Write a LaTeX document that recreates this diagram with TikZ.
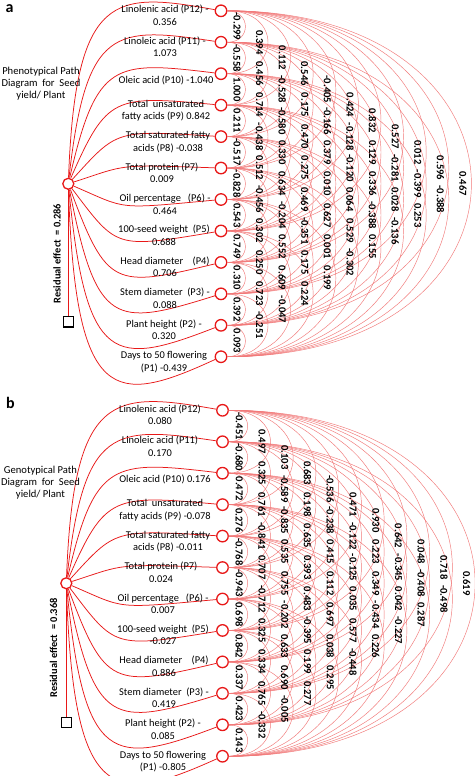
\documentclass[tikz,border=0pt]{standalone}
\usepackage{fontspec}
\setmainfont{Carlito}
\usetikzlibrary{calc}
\definecolor{pred}{RGB}{232,24,24}
\definecolor{parc}{RGB}{242,120,120}
\tikzset{
  var/.style={circle, draw=pred, line width=1.3pt, minimum size=11.5pt, inner sep=0pt},
  hubnode/.style={circle, draw=pred, line width=1.3pt, minimum size=11pt, inner sep=0pt},
  resbox/.style={rectangle, draw=black, line width=1.1pt, minimum size=10.5pt, inner sep=0pt},
  conn/.style={draw=pred, line width=0.75pt},
  corr/.style={draw=parc, line width=0.45pt},
  lab/.style={font=\fontsize{10.4}{12}\selectfont, inner sep=0pt, anchor=base},
  val/.style={font=\bfseries\fontsize{10.6}{12}\selectfont, inner sep=0pt, rotate=-90},
  ttl/.style={font=\fontsize{10.6}{12.2}\selectfont, inner sep=0pt, align=center, anchor=north},
  resid/.style={font=\bfseries\fontsize{10.4}{12}\selectfont, inner sep=0pt, rotate=90},
  panlab/.style={font=\bfseries\fontsize{16}{16}\selectfont, inner sep=0pt, anchor=base west},
}
% #1 prefix, #2 y12, #3 hubx, #4 cx, #5 col1x, #6 colstep, #7 boxy
\newcommand\DrawPanel[7]{%
  \foreach \m in {1,...,12}{
    \pgfmathsetmacro\ty{#2+(12-\m)*31.45}
    \node[var] (#1\m) at (#4,\ty) {};
  }
  \pgfmathsetmacro\hy{#2+5.5*31.45}
  \node[hubnode] (#1hub) at (#3,\hy) {};
  \node[resbox] (#1box) at (#3,#7) {};
  \draw[conn] (#1hub) -- (#1box);
  \foreach \m in {1,...,12}{
    \pgfmathsetmacro\ty{#2+(12-\m)*31.45}
    \pgfmathsetmacro\dy{\ty-\hy}
    \pgfmathsetmacro\ady{abs(\dy)}
    \pgfmathsetmacro\ax{#3+5+60*(1-\ady/180)}
    \pgfmathsetmacro\cay{\dy>0 ? \ty+6+0.25*\dy : \ty-2-0.1*\ady}
    \pgfmathsetmacro\cbx{#3+0.3*(#4-#3)}
    \draw[conn] (#1hub) .. controls (\ax,\cay) and (\cbx,\cay) .. (#1\m);
  }
  \foreach \i in {2,...,12}{
    \pgfmathtruncatemacro\jmax{\i-1}
    \foreach \j in {1,...,\jmax}{
      \pgfmathsetmacro\dd{(#5+(\i-\j-1)*#6+8-#4-6)/0.75}
      \draw[corr] (#1\i.east) .. controls +(\dd,0) and +(\dd,0) .. (#1\j.east);
    }
  }
}
% #1 prefix #2 y12 #3 col1x #4 colstep #5 list
\newcommand\DrawVals[5]{%
  \foreach \k/\vals in {#5}{
    \foreach \vv [count=\n] in \vals {
      \pgfmathsetmacro\vx{#3+(\k-1)*#4}
      \pgfmathsetmacro\vy{#2+31.45*(\n-1+\k/2)}
      \node[val] (#1v\k-\n) at (\vx,\vy) {\vv};
    }
  }
}
% #1 prefix, #2 y12, #3 m, #4 lx, #5 line1, #6 line2
\newcommand\LabTwo[6]{%
  \pgfmathsetmacro\ty{#2+(12-#3)*31.45}
  \node[lab] (#1t#3a) at (#4,\ty+2) {#5};
  \node[lab] (#1t#3b) at (#4,\ty+14.5) {#6};
}
\newcommand\LabOne[5]{%
  \pgfmathsetmacro\ty{#2+(12-#3)*31.45}
  \node[lab] (#1t#3a) at (#4,\ty+9.5) {#5};
}
\begin{document}
\begin{tikzpicture}[x=1pt,y=-1pt]
\useasboundingbox (0,0) rectangle (474,776);
\fill[white] (0,0) rectangle (474,776);

% ---------------- panel a ----------------
\DrawPanel{a}{10.8}{68.3}{221}{237}{22.6}{321.7}
\DrawVals{a}{10.8}{237}{22.6}{
 1/{-0.299,-0.558,1.000,0.211,-0.517,-0.828,0.543,0.749,0.310,0.392,0.093},
 2/{0.394,0.456,0.714,-0.438,0.512,-0.456,0.302,0.250,0.723,-0.251},
 3/{0.112,-0.528,-0.580,0.330,0.634,-0.204,0.552,0.609,-0.047},
 4/{0.546,0.175,0.470,0.275,0.469,-0.351,0.175,0.224},
 5/{-0.405,-0.166,0.379,0.010,0.627,0.001,0.199},
 6/{0.424,-0.128,-0.120,0.064,0.529,-0.302},
 7/{0.832,0.129,0.336,-0.388,0.155},
 8/{0.527,-0.281,0.028,-0.136},
 9/{0.012,-0.399,0.253},
 10/{0.596,-0.388},
 11/{0.467}}
\LabTwo{a}{10.8}{12}{165}{Linolenic acid (P12) -}{0.356}
\LabTwo{a}{10.8}{11}{165}{Linoleic acid (P11) -}{1.073}
\LabOne{a}{10.8}{10}{166}{Oleic acid (P10) -1.040}
\LabTwo{a}{10.8}{9}{166}{Total\ \ unsaturated}{fatty acids (P9) 0.842}
\LabTwo{a}{10.8}{8}{168}{Total saturated fatty}{acids (P8) -0.038}
\LabTwo{a}{10.8}{7}{162}{Total protein (P7)}{0.009}
\LabTwo{a}{10.8}{6}{165}{Oil percentage\ \ \ (P6) -}{0.464}
\LabTwo{a}{10.8}{5}{164}{100-seed weight\ \ (P5)}{0.688}
\LabTwo{a}{10.8}{4}{165}{Head diameter\ \ \ \ (P4)}{0.706}
\LabTwo{a}{10.8}{3}{165}{Stem diameter\ \ (P3) -}{0.088}
\LabTwo{a}{10.8}{2}{164}{Plant height (P2) -}{0.320}
\LabTwo{a}{10.8}{1}{164}{Days to 50 flowering}{(P1) -0.439}
\node[ttl] (atitle) at (41,67) {Phenotypical Path\\Diagram\ \ for\ \ Seed\\yield/ Plant};
\node[resid] (ares) at (57,253.5) {Residual effect\ \ = 0.286};
\node[panlab] (alab) at (5.5,13) {a};

% ---------------- panel b ----------------
\DrawPanel{b}{410.3}{66.3}{222.5}{239.3}{22.74}{722.5}
\DrawVals{b}{410.3}{239.3}{22.74}{
 1/{-0.451,-0.680,0.472,0.276,-0.768,-0.943,0.698,0.842,0.337,0.423,0.143},
 2/{0.497,0.325,0.761,-0.841,0.707,-0.712,0.325,0.334,0.765,-0.332},
 3/{0.103,-0.589,-0.835,0.535,0.755,-0.202,0.633,0.690,-0.005},
 4/{0.683,0.198,0.635,0.393,0.483,-0.395,0.199,0.277},
 5/{-0.536,-0.238,0.415,0.112,0.697,0.038,0.295},
 6/{0.471,-0.122,-0.125,0.035,0.577,-0.448},
 7/{0.930,0.223,0.349,-0.434,0.226},
 8/{0.642,-0.345,0.042,-0.227},
 9/{0.048,-0.408,0.287},
 10/{0.718,-0.498},
 11/{0.619}}
\LabTwo{b}{410.3}{12}{160}{Linolenic acid (P12)}{0.080}
\LabTwo{b}{410.3}{11}{160}{Linoleic acid (P11)}{0.170}
\LabOne{b}{410.3}{10}{165}{Oleic acid (P10) 0.176}
\LabTwo{b}{410.3}{9}{165}{Total\ \ unsaturated}{fatty acids (P9) -0.078}
\LabTwo{b}{410.3}{8}{168}{Total saturated fatty}{acids (P8) -0.011}
\LabTwo{b}{410.3}{7}{161}{Total protein (P7)}{0.024}
\LabTwo{b}{410.3}{6}{163}{Oil percentage\ \ \ (P6) -}{0.007}
\LabTwo{b}{410.3}{5}{163}{100-seed weight\ \ (P5)}{-0.027}
\LabTwo{b}{410.3}{4}{164}{Head diameter\ \ \ \ (P4)}{0.886}
\LabTwo{b}{410.3}{3}{164}{Stem diameter\ \ (P3) -}{0.419}
\LabTwo{b}{410.3}{2}{163}{Plant height (P2) -}{0.085}
\LabTwo{b}{410.3}{1}{163}{Days to 50 flowering}{(P1) -0.805}
\node[ttl] (btitle) at (40.5,466) {Genotypical Path\\Diagram\ \ for\ \ Seed\\yield/ Plant};
\node[resid] (bres) at (53.5,648) {Residual effect\ \ = 0.368};
\node[panlab] (blab) at (6,408) {b};
\end{tikzpicture}
\end{document}
